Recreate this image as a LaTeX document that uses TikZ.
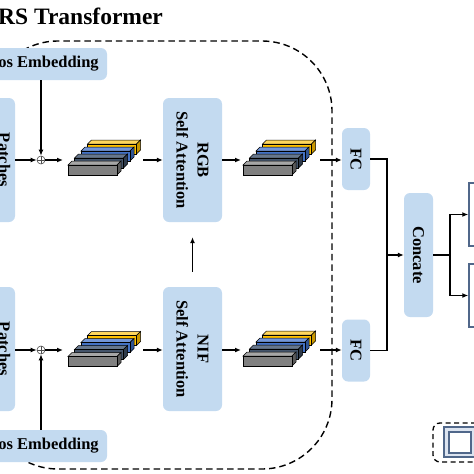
\documentclass[tikz,border=0pt]{standalone}
\usepackage{fontspec}
\setmainfont{Liberation Serif}
\usetikzlibrary{arrows.meta}
\definecolor{boxblue}{HTML}{C3DAF0}
\definecolor{slateb}{HTML}{50678A}
\definecolor{legfill}{HTML}{DCE4F0}
\definecolor{gold1}{HTML}{FFC000}\definecolor{gold2}{HTML}{FFD65C}\definecolor{gold3}{HTML}{C99700}
\definecolor{blue1}{HTML}{4472C4}\definecolor{blue2}{HTML}{7396D8}\definecolor{blue3}{HTML}{2F5597}
\definecolor{slate1}{HTML}{44546A}\definecolor{slate2}{HTML}{66768C}\definecolor{slate3}{HTML}{2E3A4A}
\definecolor{grey1}{HTML}{808080}\definecolor{grey2}{HTML}{A6A6A6}\definecolor{grey3}{HTML}{5A5A5A}
\tikzset{
  box/.style={fill=boxblue, rounded corners=6pt, inner sep=0pt},
  vtext/.style={rotate=-90, align=center, font=\bfseries\fontsize{16.5}{21}\selectfont, inner sep=0pt},
  htext/.style={font=\bfseries\fontsize{16.5}{19}\selectfont},
  arr/.style={-{Latex[length=6pt,width=5pt]}, line width=1.2pt},
  ln/.style={line width=1.2pt},
  outbox/.style={draw=slateb, line width=1.5pt, fill=white, inner sep=0pt},
  plus/.style={draw=black!70, circle, minimum size=8pt, inner sep=0pt, line width=0.6pt, fill=white,
    path picture={\draw[line width=0.5pt, black!70] (path picture bounding box.north) -- (path picture bounding box.south)
      (path picture bounding box.west) -- (path picture bounding box.east);}},
  boundary/.style={draw, line width=1.4pt, dash pattern=on 6.5pt off 4pt},
  pics/tokstack/.style={code={
    \foreach \i/\cc in {3/gold,2/blue,1/slate,0/grey}{
      \begin{scope}[shift={({6.5*\i},{-7*\i})}]
        \filldraw[fill=\cc2, draw=black, line width=0.5pt] (0,0) -- (4,-4) -- (53,-4) -- (49,0) -- cycle;
        \filldraw[fill=\cc3, draw=black, line width=0.5pt] (49,0) -- (53,-4) -- (53,6) -- (49,10) -- cycle;
        \filldraw[fill=\cc1, draw=black, line width=0.5pt] (0,0) rectangle (49,10);
      \end{scope}
    }
  }},
}
\begin{document}
\begin{tikzpicture}[x=1pt,y=-1pt]
\useasboundingbox (0,0) rectangle (474,474);
\clip (0,0) rectangle (474,474);

% title
\node[anchor=base west, inner sep=0pt, font=\bfseries\fontsize{23.5}{26}\selectfont] (title) at (-2,24) {RS Transformer};

% dashed boundary
\draw[boundary, rounded corners=70pt] (-12,41) rectangle (332,469);

% position embeddings
\node[box, minimum width=127pt, minimum height=32pt, htext] (posT) at (43.5,64) {Pos Embedding};
\node[box, minimum width=127pt, minimum height=32pt, htext] (posB) at (43.5,446) {Pos Embedding};

% patches
\node[box, minimum width=21pt, minimum height=124pt] (patT) at (4.5,160) {};
\node[vtext] (patTt) at (patT.center) {Patches};
\node[box, minimum width=21pt, minimum height=124pt] (patB) at (4.5,349) {};
\node[vtext] (patBt) at (patB.center) {Patches};

% plus
\node[plus] (plT) at (41,160) {};
\node[plus] (plB) at (41,350) {};

% self attention
\node[box, minimum width=59pt, minimum height=124pt] (rgb) at (192.5,160) {};
\node[vtext] (rgbt) at (rgb.center) {RGB\\Self Attention};
\node[box, minimum width=59pt, minimum height=124pt] (nif) at (192.5,349) {};
\node[vtext] (nift) at (nif.center) {NIF\\Self Attention};

% FC
\node[box, minimum width=28pt, minimum height=62pt] (fcT) at (356,159) {};
\node[vtext] (fcTt) at (fcT.center) {FC};
\node[box, minimum width=28pt, minimum height=62pt] (fcB) at (356,350.5) {};
\node[vtext] (fcBt) at (fcB.center) {FC};

% concate
\node[box, minimum width=29pt, minimum height=124pt] (cat) at (418.5,255) {};
\node[vtext] (catt) at (cat.center) {Concate};

% outputs
\node[outbox, minimum width=40pt, minimum height=63pt] (outT) at (489,214.5) {};
\node[outbox, minimum width=40pt, minimum height=63pt] (outB) at (489,295.5) {};

% token stacks
\pic at (68,165) {tokstack};
\pic at (243,165) {tokstack};
\pic at (68,356.5) {tokstack};
\pic at (243,356) {tokstack};

\coordinate (s1inT) at (63,160);
\coordinate (s1outT) at (143,160);
\coordinate (s2inT) at (241,160);
\coordinate (s2outT) at (320,160);
\coordinate (s1inB) at (63,350);
\coordinate (s1outB) at (143,350);
\coordinate (s2inB) at (241,350);
\coordinate (s2outB) at (320,350);

% connectors top row
\draw[arr] (patT.east |- plT) -- (plT.west);
\draw[arr] (posT.south -| plT) -- (plT.north);
\draw[arr] (plT.east) -- (s1inT);
\draw[arr] (s1outT) -- (rgb.west |- s1outT);
\draw[arr] (rgb.east |- s2inT) -- (s2inT);
\draw[arr] (s2outT) -- (fcT.west |- s2outT);

% connectors bottom row
\draw[arr] (patB.east |- plB) -- (plB.west);
\draw[arr] (posB.north -| plB) -- (plB.south);
\draw[arr] (plB.east) -- (s1inB);
\draw[arr] (s1outB) -- (nif.west |- s1outB);
\draw[arr] (nif.east |- s2inB) -- (s2inB);
\draw[arr] (s2outB) -- (fcB.west |- s2outB);

% NIF -> RGB
\draw[arr, shorten <=15pt, shorten >=15pt] (nif.north) -- (rgb.south);

% FC -> concate
\coordinate (jn) at (387,255);
\draw[ln] (fcT.east) -| (jn);
\draw[ln] (fcB.east) -| (jn);
\draw[arr] (jn) -- (cat.west);

% concate -> outputs
\coordinate (sp) at (450,255);
\draw[ln] (cat.east) -- (sp);
\draw[arr] (sp) |- (outT.west);
\draw[arr] (sp) |- (outB.west);

% legend
\node[draw, line width=1.3pt, dash pattern=on 5pt off 3.5pt, rounded corners=7pt, minimum width=67pt, minimum height=39pt, inner sep=0pt] (leg) at (466.5,442.5) {};
\node[draw=slateb, fill=legfill, line width=1.2pt, minimum width=36pt, minimum height=30pt, inner sep=0pt] (legout) at (462,442) {};
\node[draw=slateb, fill=white, line width=1.2pt, minimum width=22pt, minimum height=21pt, inner sep=0pt] (legin) at (460,442.5) {};
\end{tikzpicture}
\end{document}
